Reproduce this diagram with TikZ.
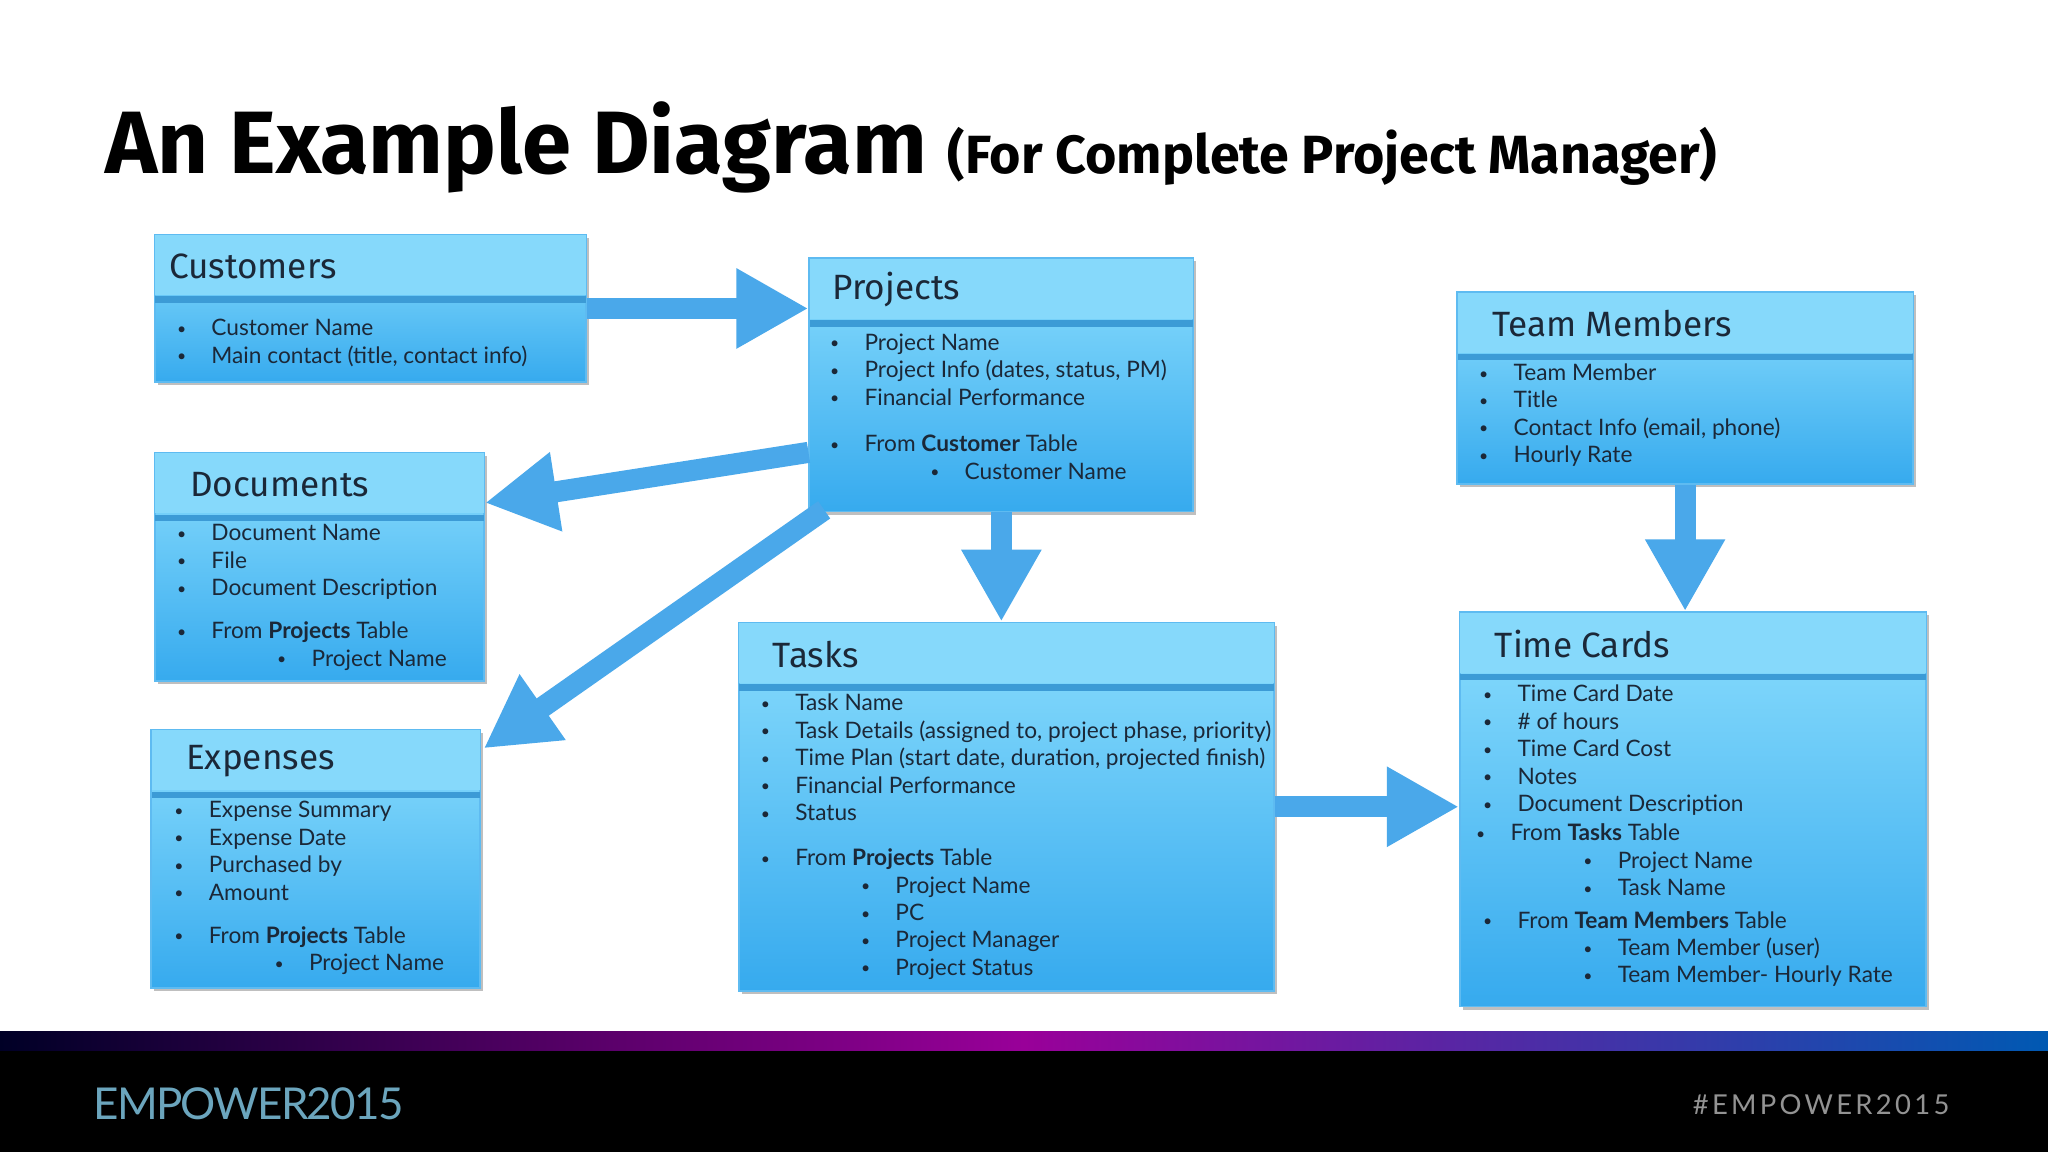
\documentclass[tikz,border=0pt]{standalone}
\usepackage{fontspec}
\setmainfont{Lato}
\newfontfamily\titlefont{Fira Sans}
\usetikzlibrary{calc,arrows.meta}
\definecolor{txt}{HTML}{1B2838}
\definecolor{boxtop}{HTML}{8ADDFD}
\definecolor{boxbot}{HTML}{36AAEE}
\definecolor{hdr}{HTML}{86D9FB}
\definecolor{sep}{HTML}{3C9BD6}
\definecolor{arrc}{HTML}{4AA8EA}
\tikzset{
  x=0.013061cm, y=-0.013061cm,
  box/.style={draw=boxbot!80!white, line width=0.5pt, top color=boxtop, bottom color=boxbot, inner sep=0, anchor=north west},
  bodytxt/.style={anchor=north west, inner sep=0, align=left, text=txt, font=\fontsize{6.45}{7.8}\selectfont},
  headtxt/.style={anchor=west, inner sep=0, text=txt, font=\titlefont\fontsize{10}{12}\selectfont},
  arr/.style={draw=arrc, line width=6pt, -{Triangle[length=0.72cm,width=0.75cm]}},
}
\newcommand{\bu}{\makebox[9.8pt][l]{\fontsize{4.5}{5}\selectfont\raisebox{0.4pt}{•}}}
\newcommand{\sbu}{\hspace{28.5pt}\bu}
\newcommand{\mkbox}[7]{% name,x,y,w,h,title,indent
  \fill[black,opacity=0.25] (#2+3,#3+3) rectangle ++(#4,#5);
  \node[box, minimum width=#4*0.013061cm, minimum height=#5*0.013061cm] (#1) at (#2,#3) {};
  \fill[hdr] ($(#1.north west)+(1,1)$) rectangle ($(#1.north east)+(-1,47)$);
  \fill[sep] ($(#1.north west)+(1,48)$) rectangle ($(#1.north east)+(-1,53)$);
  \node[headtxt] (#1h) at ($(#1.north west)+(#7,25)$) {#6};
}
\begin{document}
\begin{tikzpicture}
\useasboundingbox (0,0) rectangle (1568,882);
\fill[white] (0,0) rectangle (1568,882);
% title
\node[anchor=base west, inner sep=0, font=\titlefont\fontsize{25.2}{30}\bfseries\selectfont] (title) at (80,133)
  {An Example Diagram \fontsize{15.3}{18}\selectfont(For Complete Project Manager)};
% boxes
\mkbox{cust}{118}{179}{330}{113}{Customers}{11}
\mkbox{proj}{619}{197}{294}{194}{Projects}{18}
\mkbox{team}{1115}{223}{349}{147}{Team Members}{27}
\mkbox{doc}{118}{346}{252}{175}{Documents}{27}
\mkbox{task}{565}{476}{410}{282}{Tasks}{26}
\mkbox{tc}{1117}{468}{357}{302}{Time Cards}{27}
\mkbox{exp}{115}{558}{252}{198}{Expenses}{27}
% bodies
\node[bodytxt] (custb) at (135,244) {\bu Customer Name\\ \bu Main contact (title, contact info)};
\node[bodytxt] (projb) at (635,255) {\bu Project Name\\ \bu Project Info (dates, status, PM)\\ \bu Financial Performance\\[5.5pt]
  \bu From \textbf{Customer} Table\\ \sbu Customer Name};
\node[bodytxt] (teamb) at (1132,278) {\bu Team Member\\ \bu Title\\ \bu Contact Info (email, phone)\\ \bu Hourly Rate};
\node[bodytxt] (docb) at (135,401) {\bu Document Name\\ \bu File\\ \bu Document Description\\[4.5pt]
  \bu From \textbf{Projects} Table\\ \sbu Project Name};
\node[bodytxt] (taskb) at (582,531) {\bu Task Name\\ \bu Task Details (assigned to, project phase, priority)\\ \bu Time Plan (start date, duration, projected finish)\\ \bu Financial Performance\\ \bu Status\\[5pt]
  \bu From \textbf{Projects} Table\\ \sbu Project Name\\ \sbu PC\\ \sbu Project Manager\\ \sbu Project Status};
\node[bodytxt] (tcb) at (1135,524) {\bu Time Card Date\\ \bu \# of hours\\ \bu Time Card Cost\\ \bu Notes\\ \bu Document Description\\[0.5pt]
  \hspace{-2pt}\bu From \textbf{Tasks} Table\\ \sbu Project Name\\ \sbu Task Name\\[1.5pt]
  \bu From \textbf{Team Members} Table\\ \sbu Team Member (user)\\ \sbu Team Member- Hourly Rate};
\node[bodytxt] (expb) at (133,613) {\bu Expense Summary\\ \bu Expense Date\\ \bu Purchased by\\ \bu Amount\\[4.5pt]
  \bu From \textbf{Projects} Table\\ \sbu Project Name};
% arrows
\draw[arr] (cust.east) -- (cust.east -| proj.west);
\draw[arr] ($(proj.south west)+(0,-46)$) -- ($(doc.north east)+(0,39)$);
\draw[arr] ($(proj.south west)+(12,-2)$) -- ($(exp.north east)+(2,15)$);
\draw[arr] (proj.south) -- (proj.south |- task.north);
\draw[arr] (team.south) -- (team.south |- tc.north);
\draw[arr] (task.east) -- (task.east -| tc.west);
% footer
\shade[left color=black!85!blue, right color=blue!50!cyan!70!black, middle color=magenta!60!black] (0,790) rectangle (1568,806);
\fill[black] (0,805) rectangle (1568,882);
\node[anchor=base west, inner sep=0, text=cyan!45!gray, font=\fontsize{12.5}{14}\selectfont\addfontfeature{LetterSpace=-4}] (emp) at (71,857) {EMPOWER2015};
\node[anchor=base east, inner sep=0, text=gray!85, font=\fontsize{7.8}{9}\selectfont\addfontfeature{LetterSpace=12}] (hash) at (1493,853) {\#EMPOWER2015};
\end{tikzpicture}
\end{document}
